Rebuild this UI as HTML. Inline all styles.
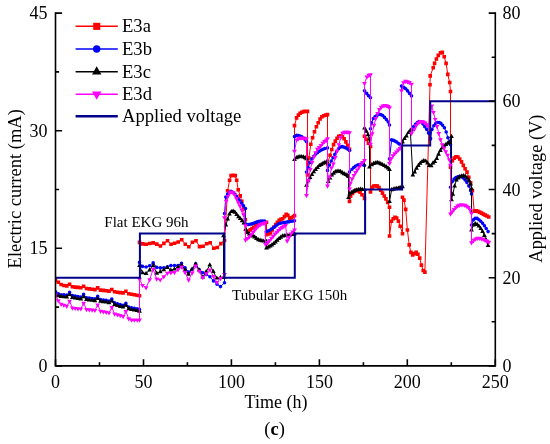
<!DOCTYPE html>
<html><head><meta charset="utf-8"><title>Electric current and applied voltage</title>
<style>
html,body{margin:0;padding:0;background:#fff;}
svg{display:block;}
text{font-family:"Liberation Serif","Times New Roman",serif;font-size:18px;fill:#000;}
</style></head>
<body>
<svg width="550" height="444" viewBox="0 0 550 444">
<rect width="550" height="444" fill="#fff"/>
<defs><clipPath id="plotclip"><rect x="55.5" y="13.1" width="439.8" height="356.79999999999995"/></clipPath></defs>
<g clip-path="url(#plotclip)">
<path d="M55.5 280.1 L58.3 282.3 L61.1 284.5 L63.9 285.5 L66.8 285.9 L69.6 284.3 L72.4 286.7 L75.2 287.1 L78.0 287.4 L80.8 287.8 L83.6 286.2 L86.5 288.5 L89.3 288.9 L92.1 289.2 L94.9 289.6 L97.7 287.9 L100.5 290.1 L103.4 290.4 L106.2 290.7 L109.0 291.1 L111.8 289.5 L114.6 291.8 L117.4 292.2 L120.2 292.6 L123.1 292.9 L125.9 291.3 L128.7 293.8 L131.5 294.3 L134.3 294.8 L137.1 295.2 L139.5 295.7 L139.5 242.4 L142.6 243.9 L146.1 244.2 L149.7 243.5 L153.2 242.9 L156.8 244.1 L160.4 246.0 L163.9 243.4 L167.5 240.7 L171.0 244.2 L174.6 243.3 L178.2 242.0 L181.7 239.8 L185.3 244.3 L188.8 246.8 L192.4 242.3 L196.0 240.7 L199.5 246.6 L203.1 246.3 L206.7 243.8 L210.2 242.8 L213.8 248.2 L217.3 247.5 L220.9 243.6 L224.5 240.5 L227.6 190.8 L229.6 180.2 L231.1 175.6 L233.1 175.3 L235.2 175.6 L236.7 180.2 L238.2 189.8 L240.2 195.9 L241.8 201.4 L243.5 209.0 L245.3 219.7 L246.5 231.8 L246.5 232.2 L248.5 231.0 L250.3 229.9 L252.0 228.5 L253.8 227.2 L255.6 225.9 L257.3 224.6 L259.1 223.4 L260.9 222.5 L262.6 221.7 L264.4 222.0 L266.5 222.3 L266.5 234.8 L268.7 233.9 L270.5 232.9 L272.2 230.0 L273.9 227.0 L275.7 224.5 L277.4 222.4 L279.2 220.3 L280.9 219.3 L282.7 218.7 L284.4 216.6 L286.2 214.4 L287.9 215.4 L289.7 218.3 L291.4 217.7 L293.2 216.7 L294.5 215.6 L294.5 125.6 L296.6 117.9 L298.4 115.1 L300.1 113.2 L301.8 112.2 L303.6 111.6 L305.3 111.4 L307.5 111.4 L307.5 175.0 L308.9 158.0 L310.8 144.3 L312.6 137.8 L314.5 131.7 L316.4 126.8 L318.2 122.7 L320.1 119.0 L321.9 116.7 L323.8 115.8 L325.7 115.1 L327.5 114.6 L327.5 163.6 L330.1 155.3 L331.8 149.5 L333.6 144.6 L335.3 141.1 L337.1 138.2 L338.8 136.3 L340.6 135.9 L342.4 136.8 L344.1 138.7 L345.9 141.9 L347.6 145.4 L349.5 149.4 L349.5 201.4 L350.6 196.3 L352.5 193.5 L354.4 191.5 L356.3 190.4 L358.2 190.9 L360.1 192.3 L362.0 194.8 L364.5 198.4 L364.5 136.2 L366.5 139.4 L368.4 143.3 L370.5 146.5 L370.5 192.0 L372.1 187.4 L373.8 186.0 L375.6 185.8 L377.3 186.1 L379.0 187.5 L380.8 190.2 L382.5 193.1 L384.2 196.0 L385.9 198.9 L387.7 202.4 L389.5 207.3 L389.5 236.0 L391.5 221.3 L393.2 218.7 L395.0 217.4 L396.7 218.0 L398.4 221.1 L400.2 226.2 L402.5 233.8 L402.5 197.2 L404.0 200.1 L405.7 209.4 L407.4 230.0 L409.2 244.9 L410.9 252.4 L412.7 254.9 L414.4 253.6 L416.2 252.2 L417.9 254.2 L419.7 258.1 L421.4 265.1 L423.2 270.5 L424.9 272.1 L430.0 84.7 L430.2 75.9 L433.2 67.8 L434.6 63.4 L436.4 59.0 L438.3 55.4 L440.5 52.9 L442.3 52.4 L444.2 56.8 L446.1 63.4 L447.8 74.4 L449.7 82.5 L450.5 91.5 L450.5 167.2 L452.4 160.7 L454.2 158.1 L456.0 156.7 L457.9 157.0 L459.7 159.0 L461.5 161.9 L463.3 165.4 L465.1 168.8 L467.0 172.1 L468.8 177.4 L470.6 182.8 L472.4 190.6 L474.2 211.1 L476.1 210.8 L477.9 211.4 L479.7 212.1 L481.5 213.1 L483.4 214.1 L485.2 215.1 L487.0 216.0 L488.8 217.0" fill="none" stroke="#ff0000" stroke-width="1" stroke-linejoin="round"/>
<path d="M53.7 278.3h3.6v3.6h-3.6zM56.5 280.5h3.6v3.6h-3.6zM59.3 282.7h3.6v3.6h-3.6zM62.1 283.7h3.6v3.6h-3.6zM65.0 284.1h3.6v3.6h-3.6zM67.8 282.5h3.6v3.6h-3.6zM70.6 284.9h3.6v3.6h-3.6zM73.4 285.3h3.6v3.6h-3.6zM76.2 285.6h3.6v3.6h-3.6zM79.0 286.0h3.6v3.6h-3.6zM81.8 284.4h3.6v3.6h-3.6zM84.7 286.7h3.6v3.6h-3.6zM87.5 287.1h3.6v3.6h-3.6zM90.3 287.4h3.6v3.6h-3.6zM93.1 287.8h3.6v3.6h-3.6zM95.9 286.1h3.6v3.6h-3.6zM98.7 288.3h3.6v3.6h-3.6zM101.6 288.6h3.6v3.6h-3.6zM104.4 288.9h3.6v3.6h-3.6zM107.2 289.3h3.6v3.6h-3.6zM110.0 287.7h3.6v3.6h-3.6zM112.8 290.0h3.6v3.6h-3.6zM115.6 290.4h3.6v3.6h-3.6zM118.4 290.8h3.6v3.6h-3.6zM121.3 291.1h3.6v3.6h-3.6zM124.1 289.5h3.6v3.6h-3.6zM126.9 292.0h3.6v3.6h-3.6zM129.7 292.5h3.6v3.6h-3.6zM132.5 293.0h3.6v3.6h-3.6zM135.3 293.4h3.6v3.6h-3.6zM137.7 293.9h3.6v3.6h-3.6zM137.7 240.6h3.6v3.6h-3.6zM140.8 242.1h3.6v3.6h-3.6zM144.3 242.4h3.6v3.6h-3.6zM147.9 241.7h3.6v3.6h-3.6zM151.4 241.1h3.6v3.6h-3.6zM155.0 242.3h3.6v3.6h-3.6zM158.6 244.2h3.6v3.6h-3.6zM162.1 241.6h3.6v3.6h-3.6zM165.7 238.9h3.6v3.6h-3.6zM169.2 242.4h3.6v3.6h-3.6zM172.8 241.5h3.6v3.6h-3.6zM176.4 240.2h3.6v3.6h-3.6zM179.9 238.0h3.6v3.6h-3.6zM183.5 242.5h3.6v3.6h-3.6zM187.0 245.0h3.6v3.6h-3.6zM190.6 240.5h3.6v3.6h-3.6zM194.2 238.9h3.6v3.6h-3.6zM197.7 244.8h3.6v3.6h-3.6zM201.3 244.5h3.6v3.6h-3.6zM204.9 242.0h3.6v3.6h-3.6zM208.4 241.0h3.6v3.6h-3.6zM212.0 246.4h3.6v3.6h-3.6zM215.5 245.7h3.6v3.6h-3.6zM219.1 241.8h3.6v3.6h-3.6zM222.7 238.7h3.6v3.6h-3.6zM225.8 189.0h3.6v3.6h-3.6zM227.8 178.4h3.6v3.6h-3.6zM229.3 173.8h3.6v3.6h-3.6zM231.3 173.5h3.6v3.6h-3.6zM233.4 173.8h3.6v3.6h-3.6zM234.9 178.4h3.6v3.6h-3.6zM236.4 188.0h3.6v3.6h-3.6zM238.4 194.1h3.6v3.6h-3.6zM240.0 199.6h3.6v3.6h-3.6zM241.7 207.2h3.6v3.6h-3.6zM243.5 217.9h3.6v3.6h-3.6zM244.7 230.0h3.6v3.6h-3.6zM244.7 230.4h3.6v3.6h-3.6zM246.7 229.2h3.6v3.6h-3.6zM248.5 228.1h3.6v3.6h-3.6zM250.2 226.7h3.6v3.6h-3.6zM252.0 225.4h3.6v3.6h-3.6zM253.8 224.1h3.6v3.6h-3.6zM255.5 222.8h3.6v3.6h-3.6zM257.3 221.6h3.6v3.6h-3.6zM259.1 220.7h3.6v3.6h-3.6zM260.8 219.9h3.6v3.6h-3.6zM262.6 220.2h3.6v3.6h-3.6zM264.7 220.5h3.6v3.6h-3.6zM264.7 233.0h3.6v3.6h-3.6zM266.9 232.1h3.6v3.6h-3.6zM268.7 231.1h3.6v3.6h-3.6zM270.4 228.2h3.6v3.6h-3.6zM272.1 225.2h3.6v3.6h-3.6zM273.9 222.7h3.6v3.6h-3.6zM275.6 220.6h3.6v3.6h-3.6zM277.4 218.5h3.6v3.6h-3.6zM279.1 217.5h3.6v3.6h-3.6zM280.9 216.9h3.6v3.6h-3.6zM282.6 214.8h3.6v3.6h-3.6zM284.4 212.6h3.6v3.6h-3.6zM286.1 213.6h3.6v3.6h-3.6zM287.9 216.5h3.6v3.6h-3.6zM289.6 215.9h3.6v3.6h-3.6zM291.4 214.9h3.6v3.6h-3.6zM292.7 213.8h3.6v3.6h-3.6zM292.7 123.8h3.6v3.6h-3.6zM294.8 116.1h3.6v3.6h-3.6zM296.6 113.3h3.6v3.6h-3.6zM298.3 111.4h3.6v3.6h-3.6zM300.0 110.4h3.6v3.6h-3.6zM301.8 109.8h3.6v3.6h-3.6zM303.5 109.6h3.6v3.6h-3.6zM305.7 109.6h3.6v3.6h-3.6zM305.7 173.2h3.6v3.6h-3.6zM307.1 156.2h3.6v3.6h-3.6zM309.0 142.5h3.6v3.6h-3.6zM310.8 136.0h3.6v3.6h-3.6zM312.7 129.9h3.6v3.6h-3.6zM314.6 125.0h3.6v3.6h-3.6zM316.4 120.9h3.6v3.6h-3.6zM318.3 117.2h3.6v3.6h-3.6zM320.1 114.9h3.6v3.6h-3.6zM322.0 114.0h3.6v3.6h-3.6zM323.9 113.3h3.6v3.6h-3.6zM325.7 112.8h3.6v3.6h-3.6zM325.7 161.8h3.6v3.6h-3.6zM328.3 153.5h3.6v3.6h-3.6zM330.0 147.7h3.6v3.6h-3.6zM331.8 142.8h3.6v3.6h-3.6zM333.5 139.3h3.6v3.6h-3.6zM335.3 136.4h3.6v3.6h-3.6zM337.0 134.5h3.6v3.6h-3.6zM338.8 134.1h3.6v3.6h-3.6zM340.6 135.0h3.6v3.6h-3.6zM342.3 136.9h3.6v3.6h-3.6zM344.1 140.1h3.6v3.6h-3.6zM345.8 143.6h3.6v3.6h-3.6zM347.7 147.6h3.6v3.6h-3.6zM347.7 199.6h3.6v3.6h-3.6zM348.8 194.5h3.6v3.6h-3.6zM350.7 191.7h3.6v3.6h-3.6zM352.6 189.7h3.6v3.6h-3.6zM354.5 188.6h3.6v3.6h-3.6zM356.4 189.1h3.6v3.6h-3.6zM358.3 190.5h3.6v3.6h-3.6zM360.2 193.0h3.6v3.6h-3.6zM362.7 196.6h3.6v3.6h-3.6zM362.7 134.4h3.6v3.6h-3.6zM364.7 137.6h3.6v3.6h-3.6zM366.6 141.5h3.6v3.6h-3.6zM368.7 144.7h3.6v3.6h-3.6zM368.7 190.2h3.6v3.6h-3.6zM370.3 185.6h3.6v3.6h-3.6zM372.0 184.2h3.6v3.6h-3.6zM373.8 184.0h3.6v3.6h-3.6zM375.5 184.3h3.6v3.6h-3.6zM377.2 185.7h3.6v3.6h-3.6zM379.0 188.4h3.6v3.6h-3.6zM380.7 191.3h3.6v3.6h-3.6zM382.4 194.2h3.6v3.6h-3.6zM384.1 197.1h3.6v3.6h-3.6zM385.9 200.6h3.6v3.6h-3.6zM387.7 205.5h3.6v3.6h-3.6zM387.7 234.2h3.6v3.6h-3.6zM389.7 219.5h3.6v3.6h-3.6zM391.4 216.9h3.6v3.6h-3.6zM393.2 215.6h3.6v3.6h-3.6zM394.9 216.2h3.6v3.6h-3.6zM396.6 219.3h3.6v3.6h-3.6zM398.4 224.4h3.6v3.6h-3.6zM400.7 232.0h3.6v3.6h-3.6zM400.7 195.4h3.6v3.6h-3.6zM402.2 198.3h3.6v3.6h-3.6zM403.9 207.6h3.6v3.6h-3.6zM405.6 228.2h3.6v3.6h-3.6zM407.4 243.1h3.6v3.6h-3.6zM409.1 250.6h3.6v3.6h-3.6zM410.9 253.1h3.6v3.6h-3.6zM412.6 251.8h3.6v3.6h-3.6zM414.4 250.4h3.6v3.6h-3.6zM416.1 252.4h3.6v3.6h-3.6zM417.9 256.3h3.6v3.6h-3.6zM419.6 263.3h3.6v3.6h-3.6zM421.4 268.7h3.6v3.6h-3.6zM423.1 270.3h3.6v3.6h-3.6zM428.2 82.9h3.6v3.6h-3.6zM428.4 74.1h3.6v3.6h-3.6zM431.4 66.0h3.6v3.6h-3.6zM432.8 61.6h3.6v3.6h-3.6zM434.6 57.2h3.6v3.6h-3.6zM436.5 53.6h3.6v3.6h-3.6zM438.7 51.1h3.6v3.6h-3.6zM440.5 50.6h3.6v3.6h-3.6zM442.4 55.0h3.6v3.6h-3.6zM444.3 61.6h3.6v3.6h-3.6zM446.0 72.6h3.6v3.6h-3.6zM447.9 80.7h3.6v3.6h-3.6zM448.7 89.7h3.6v3.6h-3.6zM448.7 165.4h3.6v3.6h-3.6zM450.6 158.9h3.6v3.6h-3.6zM452.4 156.3h3.6v3.6h-3.6zM454.2 154.9h3.6v3.6h-3.6zM456.1 155.2h3.6v3.6h-3.6zM457.9 157.2h3.6v3.6h-3.6zM459.7 160.1h3.6v3.6h-3.6zM461.5 163.6h3.6v3.6h-3.6zM463.3 167.0h3.6v3.6h-3.6zM465.2 170.3h3.6v3.6h-3.6zM467.0 175.6h3.6v3.6h-3.6zM468.8 181.0h3.6v3.6h-3.6zM470.6 188.8h3.6v3.6h-3.6zM472.4 209.3h3.6v3.6h-3.6zM474.3 209.0h3.6v3.6h-3.6zM476.1 209.6h3.6v3.6h-3.6zM477.9 210.3h3.6v3.6h-3.6zM479.7 211.3h3.6v3.6h-3.6zM481.6 212.3h3.6v3.6h-3.6zM483.4 213.3h3.6v3.6h-3.6zM485.2 214.2h3.6v3.6h-3.6zM487.0 215.2h3.6v3.6h-3.6z" fill="#ff0000" stroke="none"/>
<path d="M55.5 291.8 L58.3 293.8 L61.1 294.7 L63.9 294.9 L66.8 295.1 L69.6 292.3 L72.4 295.6 L75.2 296.0 L78.0 296.5 L80.8 297.0 L83.6 294.4 L86.5 297.8 L89.3 298.1 L92.1 298.5 L94.9 298.9 L97.7 296.2 L100.5 299.6 L103.4 300.0 L106.2 300.3 L109.0 301.1 L111.8 299.0 L114.6 302.9 L117.4 303.8 L120.2 304.6 L123.1 305.4 L125.9 303.2 L128.7 307.0 L131.5 307.7 L134.3 308.3 L137.1 308.8 L139.5 309.4 L139.5 262.4 L142.5 266.4 L146.1 267.0 L149.6 265.7 L153.2 262.7 L156.7 267.4 L160.3 267.9 L163.8 267.7 L167.4 266.7 L170.9 265.6 L174.5 265.5 L178.0 265.5 L181.5 263.3 L185.1 267.9 L188.6 272.0 L192.2 269.2 L195.7 263.9 L199.3 269.7 L202.8 272.8 L206.4 274.5 L209.9 276.8 L213.5 280.9 L217.0 284.2 L220.5 286.6 L224.5 282.7 L224.5 213.6 L225.8 197.1 L227.6 194.2 L229.4 192.5 L231.1 191.3 L232.9 192.5 L234.7 194.0 L236.4 196.4 L238.2 198.7 L240.0 201.1 L241.8 203.5 L243.5 205.9 L245.5 208.5 L245.5 223.7 L248.1 224.6 L250.0 224.3 L251.8 223.9 L253.6 223.2 L255.4 222.5 L257.2 221.9 L259.1 221.4 L260.9 221.1 L262.7 221.1 L264.5 221.1 L266.2 231.8 L268.0 231.0 L269.7 230.2 L271.5 229.1 L273.3 227.7 L275.1 226.4 L276.9 225.0 L278.7 223.7 L280.5 223.2 L282.3 222.8 L284.1 222.5 L285.9 222.2 L287.7 221.9 L289.5 221.6 L291.3 221.3 L293.1 221.0 L294.5 220.7 L294.5 136.6 L296.6 135.3 L298.4 135.5 L300.1 136.1 L301.8 136.9 L303.6 138.3 L305.3 140.0 L306.5 141.7 L306.5 172.1 L308.2 167.7 L310.0 162.4 L311.9 158.7 L313.8 156.2 L315.6 154.1 L317.5 152.6 L319.3 151.2 L321.2 150.1 L323.1 149.2 L324.9 148.5 L327.5 147.9 L327.5 170.6 L329.4 165.2 L331.2 161.0 L333.0 157.8 L334.8 154.4 L336.6 151.3 L338.5 148.7 L340.3 147.1 L342.1 146.6 L343.9 147.1 L345.7 147.9 L347.6 149.0 L349.5 150.4 L349.5 172.1 L352.0 169.2 L353.7 167.5 L355.4 166.2 L357.2 165.3 L358.9 164.6 L360.7 164.2 L362.4 164.6 L364.5 165.5 L364.5 90.7 L366.7 93.4 L368.5 95.8 L370.5 97.8 L370.5 128.8 L371.5 122.7 L373.4 118.5 L375.2 116.6 L377.1 115.2 L379.0 114.3 L380.8 114.6 L382.7 115.5 L384.5 117.4 L386.4 119.6 L388.3 122.0 L389.5 125.1 L389.5 158.9 L391.6 139.9 L393.3 140.4 L394.9 141.1 L396.6 142.0 L398.2 143.2 L399.9 144.6 L401.5 146.0 L401.5 86.1 L403.8 87.4 L405.7 88.7 L407.6 90.9 L409.5 93.4 L411.5 95.9 L411.5 130.3 L413.7 126.5 L415.5 124.2 L417.4 122.5 L419.2 121.6 L421.1 121.8 L423.0 123.9 L424.8 126.7 L426.7 129.4 L428.5 133.1 L430.5 138.3 L430.5 138.9 L432.0 129.4 L433.8 125.7 L435.6 123.6 L437.3 122.5 L439.1 122.5 L440.9 123.4 L442.6 125.2 L444.4 127.8 L446.2 132.0 L447.9 137.7 L449.7 141.2 L450.5 144.8 L450.5 187.3 L452.3 181.6 L454.1 179.0 L455.9 177.6 L457.8 176.8 L459.6 176.4 L461.4 176.8 L463.3 177.9 L465.1 179.9 L466.9 182.4 L468.8 186.0 L470.6 190.4 L471.5 193.9 L471.5 225.0 L473.4 219.9 L475.2 218.2 L477.1 218.4 L478.9 219.8 L480.7 221.3 L482.6 223.2 L484.4 225.7 L486.2 228.5 L488.1 231.6" fill="none" stroke="#0000ff" stroke-width="1" stroke-linejoin="round"/>
<path d="M53.7 291.8a1.8 1.8 0 1 0 3.6 0a1.8 1.8 0 1 0 -3.6 0zM56.5 293.8a1.8 1.8 0 1 0 3.6 0a1.8 1.8 0 1 0 -3.6 0zM59.3 294.7a1.8 1.8 0 1 0 3.6 0a1.8 1.8 0 1 0 -3.6 0zM62.1 294.9a1.8 1.8 0 1 0 3.6 0a1.8 1.8 0 1 0 -3.6 0zM65.0 295.1a1.8 1.8 0 1 0 3.6 0a1.8 1.8 0 1 0 -3.6 0zM67.8 292.3a1.8 1.8 0 1 0 3.6 0a1.8 1.8 0 1 0 -3.6 0zM70.6 295.6a1.8 1.8 0 1 0 3.6 0a1.8 1.8 0 1 0 -3.6 0zM73.4 296.0a1.8 1.8 0 1 0 3.6 0a1.8 1.8 0 1 0 -3.6 0zM76.2 296.5a1.8 1.8 0 1 0 3.6 0a1.8 1.8 0 1 0 -3.6 0zM79.0 297.0a1.8 1.8 0 1 0 3.6 0a1.8 1.8 0 1 0 -3.6 0zM81.8 294.4a1.8 1.8 0 1 0 3.6 0a1.8 1.8 0 1 0 -3.6 0zM84.7 297.8a1.8 1.8 0 1 0 3.6 0a1.8 1.8 0 1 0 -3.6 0zM87.5 298.1a1.8 1.8 0 1 0 3.6 0a1.8 1.8 0 1 0 -3.6 0zM90.3 298.5a1.8 1.8 0 1 0 3.6 0a1.8 1.8 0 1 0 -3.6 0zM93.1 298.9a1.8 1.8 0 1 0 3.6 0a1.8 1.8 0 1 0 -3.6 0zM95.9 296.2a1.8 1.8 0 1 0 3.6 0a1.8 1.8 0 1 0 -3.6 0zM98.7 299.6a1.8 1.8 0 1 0 3.6 0a1.8 1.8 0 1 0 -3.6 0zM101.6 300.0a1.8 1.8 0 1 0 3.6 0a1.8 1.8 0 1 0 -3.6 0zM104.4 300.3a1.8 1.8 0 1 0 3.6 0a1.8 1.8 0 1 0 -3.6 0zM107.2 301.1a1.8 1.8 0 1 0 3.6 0a1.8 1.8 0 1 0 -3.6 0zM110.0 299.0a1.8 1.8 0 1 0 3.6 0a1.8 1.8 0 1 0 -3.6 0zM112.8 302.9a1.8 1.8 0 1 0 3.6 0a1.8 1.8 0 1 0 -3.6 0zM115.6 303.8a1.8 1.8 0 1 0 3.6 0a1.8 1.8 0 1 0 -3.6 0zM118.4 304.6a1.8 1.8 0 1 0 3.6 0a1.8 1.8 0 1 0 -3.6 0zM121.3 305.4a1.8 1.8 0 1 0 3.6 0a1.8 1.8 0 1 0 -3.6 0zM124.1 303.2a1.8 1.8 0 1 0 3.6 0a1.8 1.8 0 1 0 -3.6 0zM126.9 307.0a1.8 1.8 0 1 0 3.6 0a1.8 1.8 0 1 0 -3.6 0zM129.7 307.7a1.8 1.8 0 1 0 3.6 0a1.8 1.8 0 1 0 -3.6 0zM132.5 308.3a1.8 1.8 0 1 0 3.6 0a1.8 1.8 0 1 0 -3.6 0zM135.3 308.8a1.8 1.8 0 1 0 3.6 0a1.8 1.8 0 1 0 -3.6 0zM137.7 309.4a1.8 1.8 0 1 0 3.6 0a1.8 1.8 0 1 0 -3.6 0zM137.7 262.4a1.8 1.8 0 1 0 3.6 0a1.8 1.8 0 1 0 -3.6 0zM140.7 266.4a1.8 1.8 0 1 0 3.6 0a1.8 1.8 0 1 0 -3.6 0zM144.3 267.0a1.8 1.8 0 1 0 3.6 0a1.8 1.8 0 1 0 -3.6 0zM147.8 265.7a1.8 1.8 0 1 0 3.6 0a1.8 1.8 0 1 0 -3.6 0zM151.4 262.7a1.8 1.8 0 1 0 3.6 0a1.8 1.8 0 1 0 -3.6 0zM154.9 267.4a1.8 1.8 0 1 0 3.6 0a1.8 1.8 0 1 0 -3.6 0zM158.5 267.9a1.8 1.8 0 1 0 3.6 0a1.8 1.8 0 1 0 -3.6 0zM162.0 267.7a1.8 1.8 0 1 0 3.6 0a1.8 1.8 0 1 0 -3.6 0zM165.6 266.7a1.8 1.8 0 1 0 3.6 0a1.8 1.8 0 1 0 -3.6 0zM169.1 265.6a1.8 1.8 0 1 0 3.6 0a1.8 1.8 0 1 0 -3.6 0zM172.7 265.5a1.8 1.8 0 1 0 3.6 0a1.8 1.8 0 1 0 -3.6 0zM176.2 265.5a1.8 1.8 0 1 0 3.6 0a1.8 1.8 0 1 0 -3.6 0zM179.7 263.3a1.8 1.8 0 1 0 3.6 0a1.8 1.8 0 1 0 -3.6 0zM183.3 267.9a1.8 1.8 0 1 0 3.6 0a1.8 1.8 0 1 0 -3.6 0zM186.8 272.0a1.8 1.8 0 1 0 3.6 0a1.8 1.8 0 1 0 -3.6 0zM190.4 269.2a1.8 1.8 0 1 0 3.6 0a1.8 1.8 0 1 0 -3.6 0zM193.9 263.9a1.8 1.8 0 1 0 3.6 0a1.8 1.8 0 1 0 -3.6 0zM197.5 269.7a1.8 1.8 0 1 0 3.6 0a1.8 1.8 0 1 0 -3.6 0zM201.0 272.8a1.8 1.8 0 1 0 3.6 0a1.8 1.8 0 1 0 -3.6 0zM204.6 274.5a1.8 1.8 0 1 0 3.6 0a1.8 1.8 0 1 0 -3.6 0zM208.1 276.8a1.8 1.8 0 1 0 3.6 0a1.8 1.8 0 1 0 -3.6 0zM211.7 280.9a1.8 1.8 0 1 0 3.6 0a1.8 1.8 0 1 0 -3.6 0zM215.2 284.2a1.8 1.8 0 1 0 3.6 0a1.8 1.8 0 1 0 -3.6 0zM218.7 286.6a1.8 1.8 0 1 0 3.6 0a1.8 1.8 0 1 0 -3.6 0zM222.7 282.7a1.8 1.8 0 1 0 3.6 0a1.8 1.8 0 1 0 -3.6 0zM222.7 213.6a1.8 1.8 0 1 0 3.6 0a1.8 1.8 0 1 0 -3.6 0zM224.0 197.1a1.8 1.8 0 1 0 3.6 0a1.8 1.8 0 1 0 -3.6 0zM225.8 194.2a1.8 1.8 0 1 0 3.6 0a1.8 1.8 0 1 0 -3.6 0zM227.6 192.5a1.8 1.8 0 1 0 3.6 0a1.8 1.8 0 1 0 -3.6 0zM229.3 191.3a1.8 1.8 0 1 0 3.6 0a1.8 1.8 0 1 0 -3.6 0zM231.1 192.5a1.8 1.8 0 1 0 3.6 0a1.8 1.8 0 1 0 -3.6 0zM232.9 194.0a1.8 1.8 0 1 0 3.6 0a1.8 1.8 0 1 0 -3.6 0zM234.6 196.4a1.8 1.8 0 1 0 3.6 0a1.8 1.8 0 1 0 -3.6 0zM236.4 198.7a1.8 1.8 0 1 0 3.6 0a1.8 1.8 0 1 0 -3.6 0zM238.2 201.1a1.8 1.8 0 1 0 3.6 0a1.8 1.8 0 1 0 -3.6 0zM240.0 203.5a1.8 1.8 0 1 0 3.6 0a1.8 1.8 0 1 0 -3.6 0zM241.7 205.9a1.8 1.8 0 1 0 3.6 0a1.8 1.8 0 1 0 -3.6 0zM243.7 208.5a1.8 1.8 0 1 0 3.6 0a1.8 1.8 0 1 0 -3.6 0zM243.7 223.7a1.8 1.8 0 1 0 3.6 0a1.8 1.8 0 1 0 -3.6 0zM246.3 224.6a1.8 1.8 0 1 0 3.6 0a1.8 1.8 0 1 0 -3.6 0zM248.2 224.3a1.8 1.8 0 1 0 3.6 0a1.8 1.8 0 1 0 -3.6 0zM250.0 223.9a1.8 1.8 0 1 0 3.6 0a1.8 1.8 0 1 0 -3.6 0zM251.8 223.2a1.8 1.8 0 1 0 3.6 0a1.8 1.8 0 1 0 -3.6 0zM253.6 222.5a1.8 1.8 0 1 0 3.6 0a1.8 1.8 0 1 0 -3.6 0zM255.4 221.9a1.8 1.8 0 1 0 3.6 0a1.8 1.8 0 1 0 -3.6 0zM257.3 221.4a1.8 1.8 0 1 0 3.6 0a1.8 1.8 0 1 0 -3.6 0zM259.1 221.1a1.8 1.8 0 1 0 3.6 0a1.8 1.8 0 1 0 -3.6 0zM260.9 221.1a1.8 1.8 0 1 0 3.6 0a1.8 1.8 0 1 0 -3.6 0zM262.7 221.1a1.8 1.8 0 1 0 3.6 0a1.8 1.8 0 1 0 -3.6 0zM264.4 231.8a1.8 1.8 0 1 0 3.6 0a1.8 1.8 0 1 0 -3.6 0zM266.2 231.0a1.8 1.8 0 1 0 3.6 0a1.8 1.8 0 1 0 -3.6 0zM267.9 230.2a1.8 1.8 0 1 0 3.6 0a1.8 1.8 0 1 0 -3.6 0zM269.7 229.1a1.8 1.8 0 1 0 3.6 0a1.8 1.8 0 1 0 -3.6 0zM271.5 227.7a1.8 1.8 0 1 0 3.6 0a1.8 1.8 0 1 0 -3.6 0zM273.3 226.4a1.8 1.8 0 1 0 3.6 0a1.8 1.8 0 1 0 -3.6 0zM275.1 225.0a1.8 1.8 0 1 0 3.6 0a1.8 1.8 0 1 0 -3.6 0zM276.9 223.7a1.8 1.8 0 1 0 3.6 0a1.8 1.8 0 1 0 -3.6 0zM278.7 223.2a1.8 1.8 0 1 0 3.6 0a1.8 1.8 0 1 0 -3.6 0zM280.5 222.8a1.8 1.8 0 1 0 3.6 0a1.8 1.8 0 1 0 -3.6 0zM282.3 222.5a1.8 1.8 0 1 0 3.6 0a1.8 1.8 0 1 0 -3.6 0zM284.1 222.2a1.8 1.8 0 1 0 3.6 0a1.8 1.8 0 1 0 -3.6 0zM285.9 221.9a1.8 1.8 0 1 0 3.6 0a1.8 1.8 0 1 0 -3.6 0zM287.7 221.6a1.8 1.8 0 1 0 3.6 0a1.8 1.8 0 1 0 -3.6 0zM289.5 221.3a1.8 1.8 0 1 0 3.6 0a1.8 1.8 0 1 0 -3.6 0zM291.3 221.0a1.8 1.8 0 1 0 3.6 0a1.8 1.8 0 1 0 -3.6 0zM292.7 220.7a1.8 1.8 0 1 0 3.6 0a1.8 1.8 0 1 0 -3.6 0zM292.7 136.6a1.8 1.8 0 1 0 3.6 0a1.8 1.8 0 1 0 -3.6 0zM294.8 135.3a1.8 1.8 0 1 0 3.6 0a1.8 1.8 0 1 0 -3.6 0zM296.6 135.5a1.8 1.8 0 1 0 3.6 0a1.8 1.8 0 1 0 -3.6 0zM298.3 136.1a1.8 1.8 0 1 0 3.6 0a1.8 1.8 0 1 0 -3.6 0zM300.0 136.9a1.8 1.8 0 1 0 3.6 0a1.8 1.8 0 1 0 -3.6 0zM301.8 138.3a1.8 1.8 0 1 0 3.6 0a1.8 1.8 0 1 0 -3.6 0zM303.5 140.0a1.8 1.8 0 1 0 3.6 0a1.8 1.8 0 1 0 -3.6 0zM304.7 141.7a1.8 1.8 0 1 0 3.6 0a1.8 1.8 0 1 0 -3.6 0zM304.7 172.1a1.8 1.8 0 1 0 3.6 0a1.8 1.8 0 1 0 -3.6 0zM306.4 167.7a1.8 1.8 0 1 0 3.6 0a1.8 1.8 0 1 0 -3.6 0zM308.2 162.4a1.8 1.8 0 1 0 3.6 0a1.8 1.8 0 1 0 -3.6 0zM310.1 158.7a1.8 1.8 0 1 0 3.6 0a1.8 1.8 0 1 0 -3.6 0zM312.0 156.2a1.8 1.8 0 1 0 3.6 0a1.8 1.8 0 1 0 -3.6 0zM313.8 154.1a1.8 1.8 0 1 0 3.6 0a1.8 1.8 0 1 0 -3.6 0zM315.7 152.6a1.8 1.8 0 1 0 3.6 0a1.8 1.8 0 1 0 -3.6 0zM317.5 151.2a1.8 1.8 0 1 0 3.6 0a1.8 1.8 0 1 0 -3.6 0zM319.4 150.1a1.8 1.8 0 1 0 3.6 0a1.8 1.8 0 1 0 -3.6 0zM321.3 149.2a1.8 1.8 0 1 0 3.6 0a1.8 1.8 0 1 0 -3.6 0zM323.1 148.5a1.8 1.8 0 1 0 3.6 0a1.8 1.8 0 1 0 -3.6 0zM325.7 147.9a1.8 1.8 0 1 0 3.6 0a1.8 1.8 0 1 0 -3.6 0zM325.7 170.6a1.8 1.8 0 1 0 3.6 0a1.8 1.8 0 1 0 -3.6 0zM327.6 165.2a1.8 1.8 0 1 0 3.6 0a1.8 1.8 0 1 0 -3.6 0zM329.4 161.0a1.8 1.8 0 1 0 3.6 0a1.8 1.8 0 1 0 -3.6 0zM331.2 157.8a1.8 1.8 0 1 0 3.6 0a1.8 1.8 0 1 0 -3.6 0zM333.0 154.4a1.8 1.8 0 1 0 3.6 0a1.8 1.8 0 1 0 -3.6 0zM334.8 151.3a1.8 1.8 0 1 0 3.6 0a1.8 1.8 0 1 0 -3.6 0zM336.7 148.7a1.8 1.8 0 1 0 3.6 0a1.8 1.8 0 1 0 -3.6 0zM338.5 147.1a1.8 1.8 0 1 0 3.6 0a1.8 1.8 0 1 0 -3.6 0zM340.3 146.6a1.8 1.8 0 1 0 3.6 0a1.8 1.8 0 1 0 -3.6 0zM342.1 147.1a1.8 1.8 0 1 0 3.6 0a1.8 1.8 0 1 0 -3.6 0zM343.9 147.9a1.8 1.8 0 1 0 3.6 0a1.8 1.8 0 1 0 -3.6 0zM345.8 149.0a1.8 1.8 0 1 0 3.6 0a1.8 1.8 0 1 0 -3.6 0zM347.7 150.4a1.8 1.8 0 1 0 3.6 0a1.8 1.8 0 1 0 -3.6 0zM347.7 172.1a1.8 1.8 0 1 0 3.6 0a1.8 1.8 0 1 0 -3.6 0zM350.2 169.2a1.8 1.8 0 1 0 3.6 0a1.8 1.8 0 1 0 -3.6 0zM351.9 167.5a1.8 1.8 0 1 0 3.6 0a1.8 1.8 0 1 0 -3.6 0zM353.6 166.2a1.8 1.8 0 1 0 3.6 0a1.8 1.8 0 1 0 -3.6 0zM355.4 165.3a1.8 1.8 0 1 0 3.6 0a1.8 1.8 0 1 0 -3.6 0zM357.1 164.6a1.8 1.8 0 1 0 3.6 0a1.8 1.8 0 1 0 -3.6 0zM358.9 164.2a1.8 1.8 0 1 0 3.6 0a1.8 1.8 0 1 0 -3.6 0zM360.6 164.6a1.8 1.8 0 1 0 3.6 0a1.8 1.8 0 1 0 -3.6 0zM362.7 165.5a1.8 1.8 0 1 0 3.6 0a1.8 1.8 0 1 0 -3.6 0zM362.7 90.7a1.8 1.8 0 1 0 3.6 0a1.8 1.8 0 1 0 -3.6 0zM364.9 93.4a1.8 1.8 0 1 0 3.6 0a1.8 1.8 0 1 0 -3.6 0zM366.7 95.8a1.8 1.8 0 1 0 3.6 0a1.8 1.8 0 1 0 -3.6 0zM368.7 97.8a1.8 1.8 0 1 0 3.6 0a1.8 1.8 0 1 0 -3.6 0zM368.7 128.8a1.8 1.8 0 1 0 3.6 0a1.8 1.8 0 1 0 -3.6 0zM369.7 122.7a1.8 1.8 0 1 0 3.6 0a1.8 1.8 0 1 0 -3.6 0zM371.6 118.5a1.8 1.8 0 1 0 3.6 0a1.8 1.8 0 1 0 -3.6 0zM373.4 116.6a1.8 1.8 0 1 0 3.6 0a1.8 1.8 0 1 0 -3.6 0zM375.3 115.2a1.8 1.8 0 1 0 3.6 0a1.8 1.8 0 1 0 -3.6 0zM377.2 114.3a1.8 1.8 0 1 0 3.6 0a1.8 1.8 0 1 0 -3.6 0zM379.0 114.6a1.8 1.8 0 1 0 3.6 0a1.8 1.8 0 1 0 -3.6 0zM380.9 115.5a1.8 1.8 0 1 0 3.6 0a1.8 1.8 0 1 0 -3.6 0zM382.7 117.4a1.8 1.8 0 1 0 3.6 0a1.8 1.8 0 1 0 -3.6 0zM384.6 119.6a1.8 1.8 0 1 0 3.6 0a1.8 1.8 0 1 0 -3.6 0zM386.5 122.0a1.8 1.8 0 1 0 3.6 0a1.8 1.8 0 1 0 -3.6 0zM387.7 125.1a1.8 1.8 0 1 0 3.6 0a1.8 1.8 0 1 0 -3.6 0zM387.7 158.9a1.8 1.8 0 1 0 3.6 0a1.8 1.8 0 1 0 -3.6 0zM389.8 139.9a1.8 1.8 0 1 0 3.6 0a1.8 1.8 0 1 0 -3.6 0zM391.5 140.4a1.8 1.8 0 1 0 3.6 0a1.8 1.8 0 1 0 -3.6 0zM393.1 141.1a1.8 1.8 0 1 0 3.6 0a1.8 1.8 0 1 0 -3.6 0zM394.8 142.0a1.8 1.8 0 1 0 3.6 0a1.8 1.8 0 1 0 -3.6 0zM396.4 143.2a1.8 1.8 0 1 0 3.6 0a1.8 1.8 0 1 0 -3.6 0zM398.1 144.6a1.8 1.8 0 1 0 3.6 0a1.8 1.8 0 1 0 -3.6 0zM399.7 146.0a1.8 1.8 0 1 0 3.6 0a1.8 1.8 0 1 0 -3.6 0zM399.7 86.1a1.8 1.8 0 1 0 3.6 0a1.8 1.8 0 1 0 -3.6 0zM402.0 87.4a1.8 1.8 0 1 0 3.6 0a1.8 1.8 0 1 0 -3.6 0zM403.9 88.7a1.8 1.8 0 1 0 3.6 0a1.8 1.8 0 1 0 -3.6 0zM405.8 90.9a1.8 1.8 0 1 0 3.6 0a1.8 1.8 0 1 0 -3.6 0zM407.7 93.4a1.8 1.8 0 1 0 3.6 0a1.8 1.8 0 1 0 -3.6 0zM409.7 95.9a1.8 1.8 0 1 0 3.6 0a1.8 1.8 0 1 0 -3.6 0zM409.7 130.3a1.8 1.8 0 1 0 3.6 0a1.8 1.8 0 1 0 -3.6 0zM411.9 126.5a1.8 1.8 0 1 0 3.6 0a1.8 1.8 0 1 0 -3.6 0zM413.7 124.2a1.8 1.8 0 1 0 3.6 0a1.8 1.8 0 1 0 -3.6 0zM415.6 122.5a1.8 1.8 0 1 0 3.6 0a1.8 1.8 0 1 0 -3.6 0zM417.4 121.6a1.8 1.8 0 1 0 3.6 0a1.8 1.8 0 1 0 -3.6 0zM419.3 121.8a1.8 1.8 0 1 0 3.6 0a1.8 1.8 0 1 0 -3.6 0zM421.2 123.9a1.8 1.8 0 1 0 3.6 0a1.8 1.8 0 1 0 -3.6 0zM423.0 126.7a1.8 1.8 0 1 0 3.6 0a1.8 1.8 0 1 0 -3.6 0zM424.9 129.4a1.8 1.8 0 1 0 3.6 0a1.8 1.8 0 1 0 -3.6 0zM426.7 133.1a1.8 1.8 0 1 0 3.6 0a1.8 1.8 0 1 0 -3.6 0zM428.7 138.3a1.8 1.8 0 1 0 3.6 0a1.8 1.8 0 1 0 -3.6 0zM428.7 138.9a1.8 1.8 0 1 0 3.6 0a1.8 1.8 0 1 0 -3.6 0zM430.2 129.4a1.8 1.8 0 1 0 3.6 0a1.8 1.8 0 1 0 -3.6 0zM432.0 125.7a1.8 1.8 0 1 0 3.6 0a1.8 1.8 0 1 0 -3.6 0zM433.8 123.6a1.8 1.8 0 1 0 3.6 0a1.8 1.8 0 1 0 -3.6 0zM435.5 122.5a1.8 1.8 0 1 0 3.6 0a1.8 1.8 0 1 0 -3.6 0zM437.3 122.5a1.8 1.8 0 1 0 3.6 0a1.8 1.8 0 1 0 -3.6 0zM439.1 123.4a1.8 1.8 0 1 0 3.6 0a1.8 1.8 0 1 0 -3.6 0zM440.8 125.2a1.8 1.8 0 1 0 3.6 0a1.8 1.8 0 1 0 -3.6 0zM442.6 127.8a1.8 1.8 0 1 0 3.6 0a1.8 1.8 0 1 0 -3.6 0zM444.4 132.0a1.8 1.8 0 1 0 3.6 0a1.8 1.8 0 1 0 -3.6 0zM446.1 137.7a1.8 1.8 0 1 0 3.6 0a1.8 1.8 0 1 0 -3.6 0zM447.9 141.2a1.8 1.8 0 1 0 3.6 0a1.8 1.8 0 1 0 -3.6 0zM448.7 144.8a1.8 1.8 0 1 0 3.6 0a1.8 1.8 0 1 0 -3.6 0zM448.7 187.3a1.8 1.8 0 1 0 3.6 0a1.8 1.8 0 1 0 -3.6 0zM450.5 181.6a1.8 1.8 0 1 0 3.6 0a1.8 1.8 0 1 0 -3.6 0zM452.3 179.0a1.8 1.8 0 1 0 3.6 0a1.8 1.8 0 1 0 -3.6 0zM454.1 177.6a1.8 1.8 0 1 0 3.6 0a1.8 1.8 0 1 0 -3.6 0zM456.0 176.8a1.8 1.8 0 1 0 3.6 0a1.8 1.8 0 1 0 -3.6 0zM457.8 176.4a1.8 1.8 0 1 0 3.6 0a1.8 1.8 0 1 0 -3.6 0zM459.6 176.8a1.8 1.8 0 1 0 3.6 0a1.8 1.8 0 1 0 -3.6 0zM461.5 177.9a1.8 1.8 0 1 0 3.6 0a1.8 1.8 0 1 0 -3.6 0zM463.3 179.9a1.8 1.8 0 1 0 3.6 0a1.8 1.8 0 1 0 -3.6 0zM465.1 182.4a1.8 1.8 0 1 0 3.6 0a1.8 1.8 0 1 0 -3.6 0zM467.0 186.0a1.8 1.8 0 1 0 3.6 0a1.8 1.8 0 1 0 -3.6 0zM468.8 190.4a1.8 1.8 0 1 0 3.6 0a1.8 1.8 0 1 0 -3.6 0zM469.7 193.9a1.8 1.8 0 1 0 3.6 0a1.8 1.8 0 1 0 -3.6 0zM469.7 225.0a1.8 1.8 0 1 0 3.6 0a1.8 1.8 0 1 0 -3.6 0zM471.6 219.9a1.8 1.8 0 1 0 3.6 0a1.8 1.8 0 1 0 -3.6 0zM473.4 218.2a1.8 1.8 0 1 0 3.6 0a1.8 1.8 0 1 0 -3.6 0zM475.3 218.4a1.8 1.8 0 1 0 3.6 0a1.8 1.8 0 1 0 -3.6 0zM477.1 219.8a1.8 1.8 0 1 0 3.6 0a1.8 1.8 0 1 0 -3.6 0zM478.9 221.3a1.8 1.8 0 1 0 3.6 0a1.8 1.8 0 1 0 -3.6 0zM480.8 223.2a1.8 1.8 0 1 0 3.6 0a1.8 1.8 0 1 0 -3.6 0zM482.6 225.7a1.8 1.8 0 1 0 3.6 0a1.8 1.8 0 1 0 -3.6 0zM484.4 228.5a1.8 1.8 0 1 0 3.6 0a1.8 1.8 0 1 0 -3.6 0zM486.3 231.6a1.8 1.8 0 1 0 3.6 0a1.8 1.8 0 1 0 -3.6 0z" fill="#0000ff" stroke="none"/>
<path d="M55.5 294.5 L58.3 295.9 L61.1 296.6 L63.9 296.9 L66.8 297.1 L69.6 294.7 L72.4 297.6 L75.2 298.0 L78.0 298.5 L80.8 299.0 L83.6 296.8 L86.5 299.7 L89.3 300.1 L92.1 300.4 L94.9 300.8 L97.7 298.5 L100.5 301.4 L103.4 301.8 L106.2 302.1 L109.0 302.9 L111.8 301.2 L114.6 304.7 L117.4 305.6 L120.2 306.4 L123.1 307.2 L125.9 305.4 L128.7 308.8 L131.5 309.5 L134.3 310.1 L137.1 310.7 L139.5 311.3 L139.5 265.5 L142.5 272.8 L146.1 273.5 L149.6 270.0 L153.2 265.5 L156.7 273.3 L160.2 271.9 L163.8 269.9 L167.3 267.6 L170.8 270.4 L174.4 269.2 L177.9 267.1 L181.5 265.0 L185.0 270.0 L188.5 274.3 L192.1 269.2 L195.6 264.1 L199.1 270.1 L202.7 277.2 L206.2 271.7 L209.8 264.9 L213.3 271.6 L216.8 278.2 L220.4 277.5 L223.5 277.6 L223.5 235.9 L225.9 225.0 L227.7 219.0 L229.5 214.1 L231.3 211.7 L233.1 211.2 L234.9 212.4 L236.7 214.6 L238.5 216.9 L240.3 218.7 L242.1 220.8 L243.9 223.2 L245.7 229.3 L247.5 232.7 L249.3 234.0 L251.1 235.2 L252.9 236.1 L254.7 237.1 L256.5 238.4 L258.3 239.8 L260.1 240.3 L261.9 240.8 L263.7 241.2 L266.5 241.5 L266.5 248.0 L268.3 247.1 L270.1 246.2 L271.9 245.0 L273.6 243.7 L275.4 242.2 L277.2 240.4 L279.0 238.7 L280.7 237.4 L282.5 236.0 L284.3 235.9 L286.0 235.9 L287.8 235.6 L289.6 235.2 L291.4 234.7 L293.1 234.3 L294.5 233.8 L294.5 159.6 L296.4 157.9 L298.1 157.1 L299.9 156.7 L301.7 156.7 L303.5 157.0 L305.3 157.8 L306.5 158.9 L306.5 185.3 L308.2 180.9 L310.0 177.6 L311.9 174.7 L313.8 171.9 L315.6 169.6 L317.5 167.5 L319.3 165.6 L321.2 164.5 L323.1 163.3 L324.9 162.6 L326.8 161.8 L328.3 181.6 L330.0 178.2 L331.8 175.2 L333.6 173.4 L335.3 171.9 L337.1 171.3 L338.9 171.3 L340.6 171.6 L342.4 172.8 L344.2 173.8 L346.0 174.7 L347.7 175.6 L348.5 176.5 L348.5 197.7 L349.6 194.0 L351.4 192.6 L353.2 191.5 L355.0 190.6 L356.8 190.0 L358.7 189.6 L360.5 189.4 L362.3 189.5 L364.5 189.7 L364.5 128.2 L366.4 131.3 L368.0 134.8 L369.5 139.2 L369.5 167.0 L371.7 164.9 L373.6 163.6 L375.4 163.0 L377.2 162.6 L379.0 163.1 L380.8 163.8 L382.6 164.7 L384.4 165.7 L386.2 166.8 L388.0 168.0 L389.5 169.5 L389.5 201.5 L391.6 189.8 L393.3 189.3 L395.0 188.9 L396.7 188.6 L398.4 188.2 L400.1 187.5 L402.5 186.8 L402.5 142.1 L404.4 138.7 L406.4 136.0 L408.4 132.7 L410.3 130.4 L412.8 175.0 L414.7 172.0 L416.5 168.4 L418.3 165.5 L420.2 163.3 L422.0 161.6 L423.8 160.7 L425.7 161.2 L427.5 163.1 L429.3 165.5 L431.2 165.9 L433.0 163.1 L434.9 161.6 L436.7 158.5 L438.5 154.3 L440.4 150.4 L442.2 147.9 L444.0 146.0 L445.9 144.6 L447.7 143.4 L449.5 142.5 L451.5 136.5 L451.5 199.8 L452.8 194.3 L454.6 186.0 L456.4 180.0 L458.2 178.1 L459.9 176.9 L461.7 176.0 L463.5 175.9 L465.3 176.3 L467.1 178.0 L468.9 180.4 L470.6 184.0 L471.5 188.8 L471.5 230.1 L473.4 225.2 L475.2 223.8 L477.1 224.6 L478.9 226.2 L480.7 228.5 L482.6 231.6 L484.4 235.5 L486.2 240.0 L488.1 245.5" fill="none" stroke="#000000" stroke-width="1" stroke-linejoin="round"/>
<path d="M55.5 291.7L57.9 295.9L53.1 295.9zM58.3 293.1L60.7 297.3L55.9 297.3zM61.1 293.8L63.5 298.0L58.8 298.0zM63.9 294.1L66.3 298.3L61.6 298.3zM66.8 294.3L69.1 298.5L64.4 298.5zM69.6 291.9L71.9 296.1L67.2 296.1zM72.4 294.8L74.8 299.0L70.0 299.0zM75.2 295.3L77.6 299.4L72.8 299.4zM78.0 295.7L80.4 299.9L75.6 299.9zM80.8 296.2L83.2 300.4L78.5 300.4zM83.6 294.0L86.0 298.2L81.3 298.2zM86.5 296.9L88.8 301.1L84.1 301.1zM89.3 297.3L91.7 301.5L86.9 301.5zM92.1 297.6L94.5 301.8L89.7 301.8zM94.9 298.0L97.3 302.2L92.5 302.2zM97.7 295.7L100.1 299.9L95.3 299.9zM100.5 298.7L102.9 302.8L98.2 302.8zM103.4 299.0L105.7 303.2L101.0 303.2zM106.2 299.3L108.5 303.5L103.8 303.5zM109.0 300.1L111.4 304.3L106.6 304.3zM111.8 298.4L114.2 302.6L109.4 302.6zM114.6 301.9L117.0 306.1L112.2 306.1zM117.4 302.8L119.8 307.0L115.0 307.0zM120.2 303.7L122.6 307.9L117.9 307.9zM123.1 304.5L125.4 308.6L120.7 308.6zM125.9 302.6L128.2 306.8L123.5 306.8zM128.7 306.0L131.1 310.2L126.3 310.2zM131.5 306.7L133.9 310.9L129.1 310.9zM134.3 307.3L136.7 311.5L131.9 311.5zM137.1 307.9L139.5 312.1L134.8 312.1zM139.5 308.5L141.9 312.7L137.1 312.7zM139.5 262.7L141.9 266.9L137.1 266.9zM142.5 270.0L144.9 274.2L140.2 274.2zM146.1 270.7L148.5 274.9L143.7 274.9zM149.6 267.3L152.0 271.4L147.2 271.4zM153.2 262.7L155.5 266.9L150.8 266.9zM156.7 270.6L159.1 274.8L154.3 274.8zM160.2 269.1L162.6 273.3L157.9 273.3zM163.8 267.1L166.1 271.3L161.4 271.3zM167.3 264.8L169.7 269.0L164.9 269.0zM170.8 267.6L173.2 271.8L168.5 271.8zM174.4 266.4L176.8 270.6L172.0 270.6zM177.9 264.3L180.3 268.5L175.5 268.5zM181.5 262.2L183.8 266.4L179.1 266.4zM185.0 267.2L187.4 271.4L182.6 271.4zM188.5 271.5L190.9 275.7L186.2 275.7zM192.1 266.4L194.4 270.6L189.7 270.6zM195.6 261.3L198.0 265.5L193.2 265.5zM199.1 267.3L201.5 271.5L196.8 271.5zM202.7 274.4L205.1 278.6L200.3 278.6zM206.2 268.9L208.6 273.1L203.8 273.1zM209.8 262.2L212.1 266.3L207.4 266.3zM213.3 268.8L215.7 273.0L210.9 273.0zM216.8 275.4L219.2 279.6L214.5 279.6zM220.4 274.7L222.7 278.9L218.0 278.9zM223.5 274.8L225.9 279.0L221.1 279.0zM223.5 233.1L225.9 237.3L221.1 237.3zM225.9 222.2L228.2 226.4L223.5 226.4zM227.7 216.2L230.0 220.4L225.3 220.4zM229.5 211.3L231.8 215.5L227.1 215.5zM231.3 208.9L233.6 213.1L228.9 213.1zM233.1 208.4L235.4 212.6L230.7 212.6zM234.9 209.6L237.3 213.8L232.5 213.8zM236.7 211.8L239.1 216.0L234.3 216.0zM238.5 214.1L240.9 218.3L236.1 218.3zM240.3 215.9L242.7 220.1L237.9 220.1zM242.1 218.0L244.5 222.2L239.7 222.2zM243.9 220.4L246.3 224.6L241.5 224.6zM245.7 226.5L248.1 230.7L243.3 230.7zM247.5 229.9L249.9 234.1L245.1 234.1zM249.3 231.3L251.7 235.4L246.9 235.4zM251.1 232.4L253.5 236.6L248.7 236.6zM252.9 233.3L255.3 237.5L250.5 237.5zM254.7 234.3L257.1 238.5L252.3 238.5zM256.5 235.7L258.9 239.9L254.1 239.9zM258.3 237.0L260.7 241.2L256.0 241.2zM260.1 237.5L262.5 241.7L257.8 241.7zM261.9 238.0L264.3 242.2L259.6 242.2zM263.7 238.4L266.1 242.6L261.4 242.6zM266.5 238.7L268.9 242.9L264.1 242.9zM266.5 245.2L268.9 249.4L264.1 249.4zM268.3 244.3L270.7 248.5L266.0 248.5zM270.1 243.4L272.5 247.6L267.7 247.6zM271.9 242.2L274.2 246.4L269.5 246.4zM273.6 240.9L276.0 245.1L271.3 245.1zM275.4 239.4L277.8 243.6L273.0 243.6zM277.2 237.6L279.6 241.8L274.8 241.8zM279.0 235.9L281.3 240.1L276.6 240.1zM280.7 234.6L283.1 238.8L278.4 238.8zM282.5 233.2L284.9 237.4L280.1 237.4zM284.3 233.1L286.6 237.3L281.9 237.3zM286.0 233.1L288.4 237.3L283.7 237.3zM287.8 232.8L290.2 237.0L285.4 237.0zM289.6 232.4L292.0 236.6L287.2 236.6zM291.4 231.9L293.7 236.1L289.0 236.1zM293.1 231.5L295.5 235.7L290.8 235.7zM294.5 231.0L296.9 235.2L292.1 235.2zM294.5 156.9L296.9 161.0L292.1 161.0zM296.4 155.1L298.7 159.3L294.0 159.3zM298.1 154.3L300.5 158.5L295.8 158.5zM299.9 153.9L302.3 158.1L297.5 158.1zM301.7 153.9L304.1 158.1L299.3 158.1zM303.5 154.3L305.9 158.5L301.1 158.5zM305.3 155.0L307.6 159.2L302.9 159.2zM306.5 156.1L308.9 160.3L304.1 160.3zM306.5 182.5L308.9 186.7L304.1 186.7zM308.2 178.1L310.5 182.3L305.8 182.3zM310.0 174.8L312.4 179.0L307.7 179.0zM311.9 171.9L314.3 176.1L309.5 176.1zM313.8 169.1L316.1 173.3L311.4 173.3zM315.6 166.8L318.0 171.0L313.2 171.0zM317.5 164.7L319.9 168.9L315.1 168.9zM319.3 162.8L321.7 167.0L317.0 167.0zM321.2 161.7L323.6 165.9L318.8 165.9zM323.1 160.6L325.4 164.7L320.7 164.7zM324.9 159.8L327.3 164.0L322.6 164.0zM326.8 159.0L329.2 163.2L324.4 163.2zM328.3 178.8L330.6 183.0L325.9 183.0zM330.0 175.4L332.4 179.6L327.7 179.6zM331.8 172.4L334.2 176.6L329.4 176.6zM333.6 170.6L335.9 174.8L331.2 174.8zM335.3 169.1L337.7 173.3L333.0 173.3zM337.1 168.5L339.5 172.7L334.7 172.7zM338.9 168.5L341.3 172.7L336.5 172.7zM340.6 168.8L343.0 173.0L338.3 173.0zM342.4 170.0L344.8 174.2L340.0 174.2zM344.2 171.0L346.6 175.2L341.8 175.2zM346.0 171.9L348.3 176.1L343.6 176.1zM347.7 172.8L350.1 177.0L345.3 177.0zM348.5 173.7L350.9 177.9L346.1 177.9zM348.5 194.9L350.9 199.1L346.1 199.1zM349.6 191.2L351.9 195.4L347.2 195.4zM351.4 189.8L353.8 194.0L349.0 194.0zM353.2 188.7L355.6 192.9L350.8 192.9zM355.0 187.8L357.4 192.0L352.6 192.0zM356.8 187.2L359.2 191.4L354.5 191.4zM358.7 186.8L361.0 191.0L356.3 191.0zM360.5 186.6L362.9 190.8L358.1 190.8zM362.3 186.7L364.7 190.9L359.9 190.9zM364.5 186.9L366.9 191.1L362.1 191.1zM364.5 125.4L366.9 129.6L362.1 129.6zM366.4 128.5L368.8 132.7L364.0 132.7zM368.0 132.0L370.4 136.2L365.7 136.2zM369.5 136.4L371.9 140.6L367.1 140.6zM369.5 164.2L371.9 168.4L367.1 168.4zM371.7 162.1L374.1 166.3L369.4 166.3zM373.6 160.8L375.9 165.0L371.2 165.0zM375.4 160.2L377.7 164.4L373.0 164.4zM377.2 159.8L379.6 164.0L374.8 164.0zM379.0 160.3L381.4 164.5L376.6 164.5zM380.8 161.0L383.2 165.2L378.4 165.2zM382.6 161.9L385.0 166.1L380.2 166.1zM384.4 162.9L386.8 167.1L382.0 167.1zM386.2 164.1L388.6 168.3L383.8 168.3zM388.0 165.2L390.4 169.4L385.7 169.4zM389.5 166.7L391.9 170.9L387.1 170.9zM389.5 198.7L391.9 202.9L387.1 202.9zM391.6 187.0L394.0 191.2L389.2 191.2zM393.3 186.5L395.7 190.7L390.9 190.7zM395.0 186.1L397.4 190.3L392.6 190.3zM396.7 185.8L399.1 190.0L394.4 190.0zM398.4 185.4L400.8 189.6L396.1 189.6zM400.1 184.7L402.5 188.9L397.8 188.9zM402.5 184.0L404.9 188.2L400.1 188.2zM402.5 139.3L404.9 143.5L400.1 143.5zM404.4 135.9L406.8 140.1L402.0 140.1zM406.4 133.2L408.8 137.4L404.0 137.4zM408.4 129.9L410.7 134.1L406.0 134.1zM410.3 127.6L412.7 131.8L408.0 131.8zM412.8 172.2L415.2 176.4L410.5 176.4zM414.7 169.2L417.0 173.4L412.3 173.4zM416.5 165.6L418.9 169.8L414.1 169.8zM418.3 162.7L420.7 166.9L416.0 166.9zM420.2 160.5L422.5 164.7L417.8 164.7zM422.0 158.9L424.4 163.0L419.6 163.0zM423.8 157.9L426.2 162.1L421.5 162.1zM425.7 158.4L428.1 162.6L423.3 162.6zM427.5 160.3L429.9 164.5L425.1 164.5zM429.3 162.7L431.7 166.9L427.0 166.9zM431.2 163.1L433.6 167.3L428.8 167.3zM433.0 160.3L435.4 164.5L430.6 164.5zM434.9 158.8L437.2 163.0L432.5 163.0zM436.7 155.7L439.1 159.9L434.3 159.9zM438.5 151.5L440.9 155.7L436.1 155.7zM440.4 147.7L442.7 151.9L438.0 151.9zM442.2 145.1L444.6 149.3L439.8 149.3zM444.0 143.2L446.4 147.4L441.7 147.4zM445.9 141.8L448.2 146.0L443.5 146.0zM447.7 140.6L450.1 144.8L445.3 144.8zM449.5 139.7L451.9 143.9L447.2 143.9zM451.5 133.7L453.9 137.9L449.1 137.9zM451.5 197.0L453.9 201.2L449.1 201.2zM452.8 191.5L455.2 195.7L450.4 195.7zM454.6 183.2L457.0 187.4L452.2 187.4zM456.4 177.2L458.8 181.4L454.0 181.4zM458.2 175.3L460.5 179.5L455.8 179.5zM459.9 174.1L462.3 178.3L457.6 178.3zM461.7 173.2L464.1 177.4L459.4 177.4zM463.5 173.1L465.9 177.3L461.1 177.3zM465.3 173.5L467.7 177.7L462.9 177.7zM467.1 175.2L469.4 179.4L464.7 179.4zM468.9 177.6L471.2 181.8L466.5 181.8zM470.6 181.2L473.0 185.4L468.3 185.4zM471.5 186.0L473.9 190.2L469.1 190.2zM471.5 227.3L473.9 231.5L469.1 231.5zM473.4 222.4L475.8 226.6L471.0 226.6zM475.2 221.0L477.6 225.2L472.8 225.2zM477.1 221.8L479.4 226.0L474.7 226.0zM478.9 223.4L481.3 227.6L476.5 227.6zM480.7 225.7L483.1 229.9L478.4 229.9zM482.6 228.8L484.9 233.0L480.2 233.0zM484.4 232.7L486.8 236.9L482.0 236.9zM486.2 237.2L488.6 241.4L483.9 241.4zM488.1 242.7L490.5 246.9L485.7 246.9z" fill="#000000" stroke="none"/>
<path d="M55.5 294.8 L58.3 300.7 L61.1 304.1 L63.9 305.2 L66.8 306.2 L69.6 301.2 L72.4 308.0 L75.2 308.3 L78.0 308.6 L80.8 308.8 L83.6 303.1 L86.5 309.4 L89.3 309.7 L92.1 310.0 L94.9 310.4 L97.7 304.8 L100.5 311.2 L103.4 311.6 L106.2 312.2 L109.0 312.8 L111.8 307.4 L114.6 314.0 L117.4 314.6 L120.2 315.4 L123.1 316.4 L125.9 311.5 L128.7 318.6 L131.5 320.0 L134.3 320.0 L137.1 320.0 L139.5 320.0 L139.5 279.1 L142.5 285.3 L146.1 287.7 L149.6 279.7 L153.2 269.1 L156.7 279.0 L160.3 279.8 L163.8 276.6 L167.4 273.1 L170.9 272.7 L174.5 272.4 L178.0 269.7 L181.5 266.9 L185.1 272.4 L188.6 280.0 L192.2 272.9 L195.7 265.8 L199.3 271.3 L202.8 277.5 L206.4 273.6 L209.9 269.8 L213.5 276.4 L217.0 282.5 L220.5 278.5 L224.5 274.5 L224.5 217.6 L226.2 201.1 L227.9 196.5 L229.7 193.0 L231.4 191.8 L233.1 192.6 L234.9 195.0 L236.6 198.7 L238.4 202.7 L240.1 206.2 L241.8 210.1 L243.6 214.7 L245.5 225.7 L245.5 239.9 L247.7 238.3 L249.5 236.7 L251.3 234.5 L253.1 232.2 L254.8 230.0 L256.6 227.8 L258.4 226.0 L260.2 224.7 L262.0 223.6 L263.8 223.1 L265.5 222.7 L265.5 244.4 L267.9 242.3 L269.7 240.3 L271.5 238.2 L273.2 236.1 L275.0 234.0 L276.8 232.1 L278.5 230.4 L280.3 228.6 L282.1 227.4 L283.8 226.4 L285.6 225.3 L287.2 240.9 L289.0 237.4 L290.9 233.8 L292.7 231.8 L294.5 229.8 L294.5 151.2 L296.6 139.9 L298.4 138.6 L300.1 137.8 L301.8 137.8 L303.6 138.0 L305.3 138.3 L306.5 138.8 L306.5 195.5 L308.5 180.7 L310.3 169.3 L312.1 162.3 L313.9 157.0 L315.6 152.7 L317.4 149.3 L319.2 147.5 L321.0 145.5 L322.8 143.2 L324.5 141.5 L326.3 140.1 L327.5 138.7 L327.5 186.0 L329.7 176.8 L331.5 167.8 L333.3 164.0 L335.2 157.6 L337.0 151.1 L338.9 144.7 L340.7 137.5 L342.5 133.1 L344.4 132.2 L346.2 132.0 L348.0 132.1 L349.5 132.7 L349.5 188.9 L350.5 183.2 L352.2 178.8 L353.9 175.3 L355.6 172.5 L357.3 169.9 L359.0 167.3 L360.7 164.8 L362.4 162.5 L364.5 160.4 L364.5 83.4 L366.9 76.9 L368.9 75.2 L370.5 74.6 L370.5 144.2 L372.2 133.7 L374.0 125.1 L375.8 118.5 L377.6 113.5 L379.4 109.5 L381.2 107.1 L383.0 106.0 L384.7 105.4 L386.5 105.7 L388.3 106.5 L389.5 107.6 L389.5 163.3 L391.2 158.6 L393.0 155.6 L394.7 153.6 L396.5 151.8 L398.3 150.0 L400.1 148.3 L401.5 146.5 L401.5 90.7 L403.5 82.6 L405.5 81.2 L407.4 81.6 L409.4 82.5 L411.5 84.2 L411.5 133.6 L414.4 129.2 L416.1 125.7 L417.9 123.2 L419.7 122.0 L421.5 121.4 L423.3 122.0 L425.1 122.9 L426.9 124.6 L428.7 127.0 L431.7 106.0 L433.5 112.3 L435.2 119.3 L437.0 126.4 L438.8 133.4 L440.5 139.7 L442.3 144.7 L444.0 148.2 L445.8 151.7 L447.6 155.2 L449.3 159.6 L450.5 165.2 L450.5 214.0 L452.2 211.8 L454.0 209.5 L455.8 207.6 L457.6 205.9 L459.4 205.2 L461.2 204.7 L463.0 204.8 L464.8 205.1 L466.6 206.2 L468.4 207.5 L470.2 209.9 L471.5 213.3 L471.5 242.6 L473.8 240.1 L475.7 238.9 L477.6 238.2 L479.5 238.2 L481.3 238.6 L483.2 239.3 L485.1 240.3 L486.9 241.2 L488.8 242.1" fill="none" stroke="#ff00ff" stroke-width="1" stroke-linejoin="round"/>
<path d="M55.5 297.6L57.9 293.4L53.1 293.4zM58.3 303.5L60.7 299.3L55.9 299.3zM61.1 306.9L63.5 302.7L58.8 302.7zM63.9 308.0L66.3 303.8L61.6 303.8zM66.8 309.0L69.1 304.8L64.4 304.8zM69.6 303.9L71.9 299.7L67.2 299.7zM72.4 310.8L74.8 306.6L70.0 306.6zM75.2 311.1L77.6 306.9L72.8 306.9zM78.0 311.4L80.4 307.2L75.6 307.2zM80.8 311.6L83.2 307.4L78.5 307.4zM83.6 305.9L86.0 301.7L81.3 301.7zM86.5 312.2L88.8 308.0L84.1 308.0zM89.3 312.5L91.7 308.3L86.9 308.3zM92.1 312.7L94.5 308.6L89.7 308.6zM94.9 313.1L97.3 308.9L92.5 308.9zM97.7 307.6L100.1 303.4L95.3 303.4zM100.5 314.0L102.9 309.8L98.2 309.8zM103.4 314.4L105.7 310.2L101.0 310.2zM106.2 315.0L108.5 310.8L103.8 310.8zM109.0 315.6L111.4 311.4L106.6 311.4zM111.8 310.2L114.2 306.0L109.4 306.0zM114.6 316.8L117.0 312.6L112.2 312.6zM117.4 317.4L119.8 313.2L115.0 313.2zM120.2 318.2L122.6 314.0L117.9 314.0zM123.1 319.2L125.4 315.0L120.7 315.0zM125.9 314.3L128.2 310.1L123.5 310.1zM128.7 321.4L131.1 317.2L126.3 317.2zM131.5 322.8L133.9 318.6L129.1 318.6zM134.3 322.8L136.7 318.6L131.9 318.6zM137.1 322.8L139.5 318.6L134.8 318.6zM139.5 322.8L141.9 318.6L137.1 318.6zM139.5 281.9L141.9 277.7L137.1 277.7zM142.5 288.1L144.9 283.9L140.2 283.9zM146.1 290.5L148.5 286.3L143.7 286.3zM149.6 282.5L152.0 278.3L147.3 278.3zM153.2 271.9L155.6 267.7L150.8 267.7zM156.7 281.8L159.1 277.6L154.4 277.6zM160.3 282.6L162.6 278.4L157.9 278.4zM163.8 279.4L166.2 275.2L161.4 275.2zM167.4 275.9L169.7 271.7L165.0 271.7zM170.9 275.5L173.3 271.3L168.5 271.3zM174.5 275.2L176.8 271.0L172.1 271.0zM178.0 272.5L180.4 268.3L175.6 268.3zM181.5 269.7L183.9 265.5L179.2 265.5zM185.1 275.2L187.5 271.0L182.7 271.0zM188.6 282.8L191.0 278.6L186.3 278.6zM192.2 275.7L194.6 271.5L189.8 271.5zM195.7 268.6L198.1 264.4L193.4 264.4zM199.3 274.1L201.6 269.9L196.9 269.9zM202.8 280.3L205.2 276.1L200.4 276.1zM206.4 276.4L208.7 272.2L204.0 272.2zM209.9 272.6L212.3 268.4L207.5 268.4zM213.5 279.2L215.8 275.0L211.1 275.0zM217.0 285.3L219.4 281.1L214.6 281.1zM220.5 281.3L222.9 277.1L218.2 277.1zM224.5 277.3L226.9 273.1L222.1 273.1zM224.5 220.4L226.9 216.2L222.1 216.2zM226.2 203.9L228.6 199.7L223.8 199.7zM227.9 199.3L230.3 195.1L225.6 195.1zM229.7 195.8L232.0 191.6L227.3 191.6zM231.4 194.6L233.8 190.4L229.0 190.4zM233.1 195.4L235.5 191.2L230.8 191.2zM234.9 197.7L237.3 193.6L232.5 193.6zM236.6 201.5L239.0 197.3L234.2 197.3zM238.4 205.5L240.7 201.3L236.0 201.3zM240.1 209.0L242.5 204.8L237.7 204.8zM241.8 212.9L244.2 208.7L239.5 208.7zM243.6 217.5L245.9 213.3L241.2 213.3zM245.5 228.5L247.9 224.3L243.1 224.3zM245.5 242.7L247.9 238.5L243.1 238.5zM247.7 241.1L250.1 236.9L245.3 236.9zM249.5 239.5L251.9 235.3L247.1 235.3zM251.3 237.3L253.6 233.1L248.9 233.1zM253.1 235.0L255.4 230.8L250.7 230.8zM254.8 232.8L257.2 228.6L252.5 228.6zM256.6 230.6L259.0 226.4L254.2 226.4zM258.4 228.8L260.8 224.6L256.0 224.6zM260.2 227.5L262.6 223.3L257.8 223.3zM262.0 226.4L264.4 222.2L259.6 222.2zM263.8 225.9L266.1 221.7L261.4 221.7zM265.5 225.5L267.9 221.3L263.1 221.3zM265.5 247.1L267.9 242.9L263.1 242.9zM267.9 245.1L270.3 240.9L265.5 240.9zM269.7 243.1L272.1 238.9L267.3 238.9zM271.5 241.0L273.8 236.8L269.1 236.8zM273.2 238.9L275.6 234.7L270.8 234.7zM275.0 236.8L277.4 232.6L272.6 232.6zM276.8 234.9L279.1 230.7L274.4 230.7zM278.5 233.2L280.9 229.0L276.1 229.0zM280.3 231.4L282.7 227.2L277.9 227.2zM282.1 230.2L284.4 226.0L279.7 226.0zM283.8 229.2L286.2 225.0L281.4 225.0zM285.6 228.1L288.0 223.9L283.2 223.9zM287.2 243.7L289.6 239.5L284.8 239.5zM289.0 240.2L291.4 236.0L286.7 236.0zM290.9 236.6L293.2 232.4L288.5 232.4zM292.7 234.6L295.0 230.4L290.3 230.4zM294.5 232.6L296.9 228.4L292.1 228.4zM294.5 154.0L296.9 149.8L292.1 149.8zM296.6 142.7L299.0 138.5L294.2 138.5zM298.4 141.4L300.7 137.2L296.0 137.2zM300.1 140.6L302.5 136.4L297.7 136.4zM301.8 140.6L304.2 136.4L299.4 136.4zM303.6 140.7L305.9 136.6L301.2 136.6zM305.3 141.1L307.7 136.9L302.9 136.9zM306.5 141.6L308.9 137.4L304.1 137.4zM306.5 198.3L308.9 194.1L304.1 194.1zM308.5 183.5L310.9 179.3L306.1 179.3zM310.3 172.1L312.7 167.9L307.9 167.9zM312.1 165.1L314.5 160.9L309.7 160.9zM313.9 159.8L316.2 155.6L311.5 155.6zM315.6 155.5L318.0 151.3L313.3 151.3zM317.4 152.0L319.8 147.8L315.0 147.8zM319.2 150.3L321.6 146.1L316.8 146.1zM321.0 148.3L323.4 144.1L318.6 144.1zM322.8 145.9L325.1 141.7L320.4 141.7zM324.5 144.3L326.9 140.1L322.2 140.1zM326.3 142.9L328.7 138.7L323.9 138.7zM327.5 141.5L329.9 137.3L325.1 137.3zM327.5 188.8L329.9 184.6L325.1 184.6zM329.7 179.6L332.0 175.4L327.3 175.4zM331.5 170.6L333.9 166.4L329.1 166.4zM333.3 166.8L335.7 162.6L331.0 162.6zM335.2 160.3L337.6 156.1L332.8 156.1zM337.0 153.9L339.4 149.7L334.6 149.7zM338.9 147.5L341.2 143.3L336.5 143.3zM340.7 140.3L343.1 136.1L338.3 136.1zM342.5 135.8L344.9 131.7L340.2 131.7zM344.4 135.0L346.7 130.8L342.0 130.8zM346.2 134.7L348.6 130.6L343.8 130.6zM348.0 134.9L350.4 130.7L345.7 130.7zM349.5 135.5L351.9 131.3L347.1 131.3zM349.5 191.7L351.9 187.5L347.1 187.5zM350.5 186.0L352.8 181.8L348.1 181.8zM352.2 181.5L354.6 177.4L349.8 177.4zM353.9 178.0L356.3 173.9L351.5 173.9zM355.6 175.2L358.0 171.0L353.2 171.0zM357.3 172.7L359.7 168.5L354.9 168.5zM359.0 170.1L361.4 165.9L356.6 165.9zM360.7 167.6L363.1 163.4L358.3 163.4zM362.4 165.3L364.8 161.1L360.1 161.1zM364.5 163.2L366.9 159.0L362.1 159.0zM364.5 86.2L366.9 82.0L362.1 82.0zM366.9 79.7L369.3 75.5L364.5 75.5zM368.9 78.0L371.2 73.8L366.5 73.8zM370.5 77.4L372.9 73.2L368.1 73.2zM370.5 147.0L372.9 142.8L368.1 142.8zM372.2 136.5L374.5 132.3L369.8 132.3zM374.0 127.9L376.3 123.7L371.6 123.7zM375.8 121.3L378.1 117.1L373.4 117.1zM377.6 116.3L379.9 112.1L375.2 112.1zM379.4 112.3L381.7 108.1L377.0 108.1zM381.2 109.9L383.5 105.7L378.8 105.7zM383.0 108.8L385.3 104.6L380.6 104.6zM384.7 108.2L387.1 104.0L382.4 104.0zM386.5 108.5L388.9 104.3L384.2 104.3zM388.3 109.3L390.7 105.1L386.0 105.1zM389.5 110.4L391.9 106.2L387.1 106.2zM389.5 166.1L391.9 161.9L387.1 161.9zM391.2 161.4L393.6 157.2L388.8 157.2zM393.0 158.4L395.3 154.2L390.6 154.2zM394.7 156.4L397.1 152.2L392.4 152.2zM396.5 154.6L398.9 150.4L394.1 150.4zM398.3 152.8L400.7 148.6L395.9 148.6zM400.1 151.0L402.5 146.9L397.7 146.9zM401.5 149.3L403.9 145.1L399.1 145.1zM401.5 93.5L403.9 89.3L399.1 89.3zM403.5 85.3L405.9 81.2L401.1 81.2zM405.5 84.0L407.9 79.8L403.1 79.8zM407.4 84.4L409.8 80.2L405.1 80.2zM409.4 85.3L411.8 81.1L407.0 81.1zM411.5 86.9L413.9 82.8L409.1 82.8zM411.5 136.3L413.9 132.1L409.1 132.1zM414.4 132.0L416.7 127.8L412.0 127.8zM416.1 128.5L418.5 124.3L413.8 124.3zM417.9 126.0L420.3 121.8L415.6 121.8zM419.7 124.8L422.1 120.6L417.4 120.6zM421.5 124.2L423.9 120.0L419.1 120.0zM423.3 124.8L425.7 120.6L420.9 120.6zM425.1 125.7L427.5 121.5L422.7 121.5zM426.9 127.4L429.3 123.2L424.5 123.2zM428.7 129.8L431.1 125.6L426.3 125.6zM431.7 108.8L434.1 104.6L429.3 104.6zM433.5 115.1L435.8 110.9L431.1 110.9zM435.2 122.1L437.6 117.9L432.9 117.9zM437.0 129.2L439.4 125.0L434.6 125.0zM438.8 136.2L441.1 132.0L436.4 132.0zM440.5 142.5L442.9 138.3L438.1 138.3zM442.3 147.5L444.7 143.3L439.9 143.3zM444.0 151.0L446.4 146.8L441.7 146.8zM445.8 154.5L448.2 150.3L443.4 150.3zM447.6 158.0L449.9 153.8L445.2 153.8zM449.3 162.4L451.7 158.2L446.9 158.2zM450.5 168.0L452.9 163.8L448.1 163.8zM450.5 216.8L452.9 212.6L448.1 212.6zM452.2 214.6L454.6 210.4L449.9 210.4zM454.0 212.3L456.4 208.1L451.7 208.1zM455.8 210.3L458.2 206.1L453.5 206.1zM457.6 208.7L460.0 204.5L455.3 204.5zM459.4 208.0L461.8 203.8L457.0 203.8zM461.2 207.5L463.6 203.3L458.8 203.3zM463.0 207.6L465.4 203.4L460.6 203.4zM464.8 207.9L467.2 203.7L462.4 203.7zM466.6 208.9L469.0 204.8L464.2 204.8zM468.4 210.3L470.8 206.1L466.0 206.1zM470.2 212.7L472.6 208.5L467.8 208.5zM471.5 216.1L473.9 211.9L469.1 211.9zM471.5 245.4L473.9 241.2L469.1 241.2zM473.8 242.9L476.2 238.7L471.5 238.7zM475.7 241.7L478.1 237.5L473.3 237.5zM477.6 241.0L480.0 236.8L475.2 236.8zM479.5 241.0L481.8 236.8L477.1 236.8zM481.3 241.4L483.7 237.2L479.0 237.2zM483.2 242.1L485.6 237.9L480.8 237.9zM485.1 243.1L487.4 238.9L482.7 238.9zM486.9 244.0L489.3 239.8L484.6 239.8zM488.8 244.9L491.2 240.7L486.4 240.7z" fill="#ff00ff" stroke="none"/>
</g>
<path d="M55.5 277.7 L139.9 277.7 L139.9 233.6 L224.4 233.6 L224.4 277.7 L294.8 277.7 L294.8 233.6 L365.1 233.6 L365.1 189.5 L402.1 189.5 L402.1 145.4 L430.2 145.4 L430.2 101.3 L495.3 101.3" fill="none" stroke="#00008b" stroke-width="2" stroke-linejoin="miter"/>
<path d="M55.5 12.35V365.9H495.3V12.35" fill="none" stroke="#000" stroke-width="1.6"/>
<path d="M55.5 365.9h6.6M55.5 307.1h3.6M55.5 248.3h6.6M55.5 189.5h3.6M55.5 130.7h6.6M55.5 71.9h3.6M55.5 13.1h6.6M495.3 365.9h-6.6M495.3 321.8h-3.6M495.3 277.7h-6.6M495.3 233.6h-3.6M495.3 189.5h-6.6M495.3 145.4h-3.6M495.3 101.3h-6.6M495.3 57.2h-3.6M495.3 13.1h-6.6M55.5 365.9v-6.6M99.5 365.9v-3.6M143.5 365.9v-6.6M187.4 365.9v-3.6M231.4 365.9v-6.6M275.4 365.9v-3.6M319.4 365.9v-6.6M363.4 365.9v-3.6M407.3 365.9v-6.6M451.3 365.9v-3.6M495.3 365.9v-6.6" fill="none" stroke="#000" stroke-width="1.6"/>
<path d="M75.6 26.3H117.8" stroke="#ff0000" stroke-width="1.6" fill="none"/>
<path d="M75.6 49.0H117.8" stroke="#0000ff" stroke-width="1.6" fill="none"/>
<path d="M75.6 71.8H117.8" stroke="#000000" stroke-width="1.6" fill="none"/>
<path d="M75.6 94.3H117.8" stroke="#ff00ff" stroke-width="1.6" fill="none"/>
<path d="M93.2 22.8h7.1v7.1h-7.1z" fill="#ff0000"/>
<circle cx="96.7" cy="49.0" r="3.7" fill="#0000ff"/>
<path d="M96.7 66.3L101.4 74.6L92.0 74.6z" fill="#000"/>
<path d="M96.7 99.8L101.4 91.5L92.0 91.5z" fill="#ff00ff"/>
<path d="M75.6 116.2H117.8" stroke="#00008b" stroke-width="2.5" fill="none"/>
<g>
<text x="47.6" y="371.9" text-anchor="end">0</text>
<text x="47.6" y="254.3" text-anchor="end">15</text>
<text x="47.6" y="136.7" text-anchor="end">30</text>
<text x="47.6" y="19.1" text-anchor="end">45</text>
<text x="502.6" y="371.9">0</text>
<text x="502.6" y="283.7">20</text>
<text x="502.6" y="195.5">40</text>
<text x="502.6" y="107.3">60</text>
<text x="502.6" y="19.1">80</text>
<text x="55.5" y="388.3" text-anchor="middle">0</text>
<text x="143.5" y="388.3" text-anchor="middle">50</text>
<text x="231.4" y="388.3" text-anchor="middle">100</text>
<text x="319.4" y="388.3" text-anchor="middle">150</text>
<text x="407.3" y="388.3" text-anchor="middle">200</text>
<text x="495.3" y="388.3" text-anchor="middle">250</text>
<text x="276" y="408.4" text-anchor="middle">Time (h)</text>
<text transform="translate(21.3 188.8) rotate(-90)" text-anchor="middle" style="font-size:18.5px">Electric current (mA)</text>
<text transform="translate(541.7 188.6) rotate(-90)" text-anchor="middle" style="font-size:18.4px">Applied voltage (V)</text>
<text x="274.6" y="435.3" text-anchor="middle" style="font-size:18.5px">(<tspan font-weight="bold">c</tspan>)</text>
<text x="104.3" y="227.2" style="font-size:15px">Flat EKG 96h</text>
<text x="232" y="300.4" style="font-size:15px">Tubular EKG 150h</text>
<text x="122.0" y="32.4" style="font-size:18.6px">E3a</text>
<text x="122.0" y="55.1" style="font-size:18.6px">E3b</text>
<text x="122.0" y="77.9" style="font-size:18.6px">E3c</text>
<text x="122.0" y="100.4" style="font-size:18.6px">E3d</text>
<text x="122.0" y="122.3" style="font-size:18.6px">Applied voltage</text>
</g>
</svg>
</body></html>
